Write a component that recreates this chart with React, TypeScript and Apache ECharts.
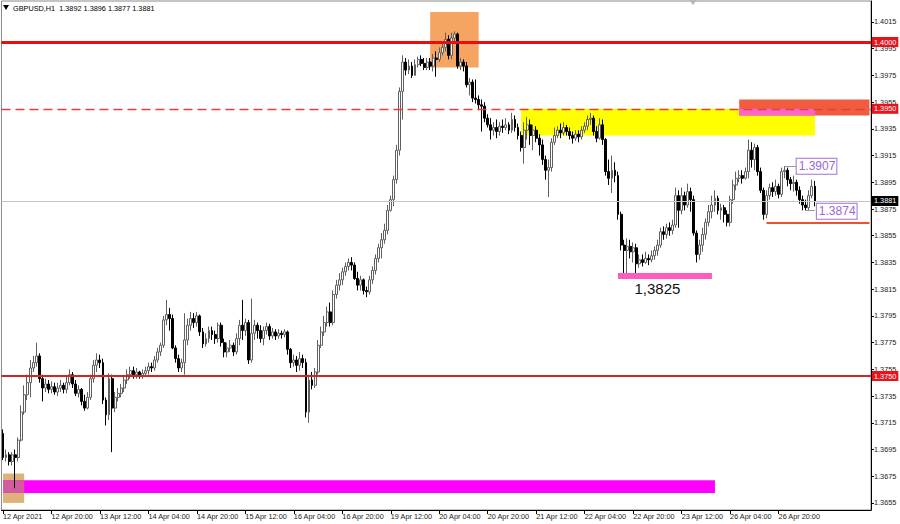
import React, { useEffect, useRef } from 'react';
import * as echarts from 'echarts';

// ---- categories (hourly bars, GBPUSD H1) ----
const tradingDays = ['12 Apr', '13 Apr', '14 Apr', '15 Apr', '16 Apr', '19 Apr', '20 Apr', '21 Apr', '22 Apr', '23 Apr', '26 Apr', '27 Apr', '28 Apr'];
const firstHour = 4;
const slotCount = 287;
const categories: string[] = [];
for (const d of tradingDays) {
  for (let h = 0; h < 24; h++) {
    if (d === tradingDays[0] && h < firstHour) continue;
    if (categories.length < slotCount) categories.push(`${d} ${String(h).padStart(2, '0')}:00`);
  }
}

const xTickLabels = ['12 Apr 04:00', '12 Apr 20:00', '13 Apr 12:00', '14 Apr 04:00', '14 Apr 20:00', '15 Apr 12:00', '16 Apr 04:00', '16 Apr 20:00', '19 Apr 12:00', '20 Apr 04:00', '20 Apr 20:00', '21 Apr 12:00', '22 Apr 04:00', '22 Apr 20:00', '23 Apr 12:00', '26 Apr 04:00', '26 Apr 20:00'];
const firstTickText = '12 Apr 2021';
const yTickLabels = [1.3655, 1.3675, 1.3695, 1.3715, 1.3735, 1.3755, 1.3775, 1.3795, 1.3815, 1.3835, 1.3855, 1.3875, 1.3895, 1.3915, 1.3935, 1.3955, 1.3975, 1.3995, 1.4015];

// ---- candles: [open, close, low, high] ----
const candles: number[][] = [
  [1.3707, 1.3689, 1.3687, 1.3710], [1.3689, 1.3691, 1.3686, 1.3695], [1.3691, 1.3686, 1.3683, 1.3693], [1.3686, 1.3691, 1.3683, 1.3693],
  [1.3691, 1.3689, 1.3666, 1.3695], [1.3689, 1.3702, 1.3686, 1.3704], [1.3702, 1.3723, 1.3701, 1.3728], [1.3723, 1.3736, 1.3721, 1.3743],
  [1.3736, 1.3745, 1.3732, 1.3751], [1.3745, 1.3756, 1.3734, 1.3762], [1.3756, 1.3760, 1.3753, 1.3765], [1.3760, 1.3765, 1.3757, 1.3775],
  [1.3765, 1.3748, 1.3745, 1.3767], [1.3748, 1.3741, 1.3731, 1.3751], [1.3741, 1.3744, 1.3738, 1.3748], [1.3744, 1.3740, 1.3737, 1.3747],
  [1.3740, 1.3742, 1.3737, 1.3746], [1.3742, 1.3738, 1.3736, 1.3745], [1.3738, 1.3741, 1.3735, 1.3745], [1.3741, 1.3743, 1.3738, 1.3747],
  [1.3743, 1.3740, 1.3737, 1.3745], [1.3740, 1.3745, 1.3737, 1.3750], [1.3745, 1.3751, 1.3743, 1.3755], [1.3751, 1.3744, 1.3741, 1.3753],
  [1.3744, 1.3737, 1.3735, 1.3747], [1.3737, 1.3740, 1.3734, 1.3743], [1.3740, 1.3731, 1.3728, 1.3741], [1.3731, 1.3726, 1.3724, 1.3736],
  [1.3726, 1.3734, 1.3725, 1.3738], [1.3734, 1.3748, 1.3732, 1.3751], [1.3748, 1.3758, 1.3745, 1.3762], [1.3758, 1.3762, 1.3753, 1.3767],
  [1.3762, 1.3760, 1.3756, 1.3766], [1.3760, 1.3732, 1.3729, 1.3763], [1.3732, 1.3721, 1.3713, 1.3734], [1.3721, 1.3748, 1.3717, 1.3752],
  [1.3748, 1.3726, 1.3693, 1.3751], [1.3726, 1.3734, 1.3723, 1.3738], [1.3734, 1.3737, 1.3731, 1.3741], [1.3737, 1.3741, 1.3734, 1.3744],
  [1.3741, 1.3747, 1.3738, 1.3750], [1.3747, 1.3751, 1.3744, 1.3755], [1.3751, 1.3754, 1.3748, 1.3757], [1.3754, 1.3751, 1.3748, 1.3757],
  [1.3751, 1.3753, 1.3748, 1.3756], [1.3753, 1.3750, 1.3748, 1.3754], [1.3750, 1.3752, 1.3748, 1.3755], [1.3752, 1.3754, 1.3750, 1.3757],
  [1.3754, 1.3757, 1.3751, 1.3760], [1.3757, 1.3756, 1.3753, 1.3760], [1.3756, 1.3762, 1.3754, 1.3765], [1.3762, 1.3768, 1.3760, 1.3771],
  [1.3768, 1.3773, 1.3765, 1.3775], [1.3773, 1.3792, 1.3771, 1.3795], [1.3792, 1.3796, 1.3788, 1.3807], [1.3796, 1.3793, 1.3784, 1.3801],
  [1.3793, 1.3771, 1.3770, 1.3796], [1.3771, 1.3763, 1.3760, 1.3773], [1.3763, 1.3756, 1.3753, 1.3766], [1.3756, 1.3760, 1.3753, 1.3763],
  [1.3760, 1.3777, 1.3751, 1.3797], [1.3777, 1.3788, 1.3773, 1.3793], [1.3788, 1.3793, 1.3784, 1.3798], [1.3793, 1.3790, 1.3786, 1.3797],
  [1.3790, 1.3795, 1.3787, 1.3798], [1.3795, 1.3783, 1.3780, 1.3796], [1.3783, 1.3774, 1.3771, 1.3786], [1.3774, 1.3778, 1.3772, 1.3782],
  [1.3778, 1.3784, 1.3775, 1.3787], [1.3784, 1.3781, 1.3777, 1.3787], [1.3781, 1.3778, 1.3774, 1.3784], [1.3778, 1.3788, 1.3775, 1.3790],
  [1.3788, 1.3775, 1.3772, 1.3790], [1.3775, 1.3768, 1.3764, 1.3778], [1.3768, 1.3771, 1.3764, 1.3775], [1.3771, 1.3773, 1.3768, 1.3777],
  [1.3773, 1.3768, 1.3765, 1.3775], [1.3768, 1.3778, 1.3766, 1.3782], [1.3778, 1.3788, 1.3773, 1.3792], [1.3788, 1.3784, 1.3777, 1.3807],
  [1.3784, 1.3790, 1.3780, 1.3793], [1.3790, 1.3762, 1.3759, 1.3792], [1.3762, 1.3782, 1.3760, 1.3808], [1.3782, 1.3788, 1.3777, 1.3792],
  [1.3788, 1.3784, 1.3778, 1.3790], [1.3784, 1.3778, 1.3775, 1.3788], [1.3778, 1.3784, 1.3773, 1.3787], [1.3784, 1.3787, 1.3781, 1.3790],
  [1.3787, 1.3780, 1.3777, 1.3789], [1.3780, 1.3783, 1.3778, 1.3786], [1.3783, 1.3780, 1.3777, 1.3785], [1.3780, 1.3782, 1.3778, 1.3785],
  [1.3782, 1.3781, 1.3778, 1.3784], [1.3781, 1.3783, 1.3779, 1.3785], [1.3783, 1.3770, 1.3766, 1.3784], [1.3770, 1.3760, 1.3756, 1.3771],
  [1.3760, 1.3762, 1.3757, 1.3766], [1.3762, 1.3758, 1.3753, 1.3765], [1.3758, 1.3763, 1.3754, 1.3768], [1.3763, 1.3760, 1.3756, 1.3766],
  [1.3760, 1.3723, 1.3719, 1.3763], [1.3723, 1.3747, 1.3715, 1.3751], [1.3747, 1.3743, 1.3740, 1.3753], [1.3743, 1.3753, 1.3741, 1.3756],
  [1.3753, 1.3773, 1.3751, 1.3777], [1.3773, 1.3783, 1.3771, 1.3787], [1.3783, 1.3790, 1.3780, 1.3795], [1.3790, 1.3798, 1.3787, 1.3802],
  [1.3798, 1.3790, 1.3787, 1.3805], [1.3790, 1.3811, 1.3788, 1.3814], [1.3811, 1.3818, 1.3808, 1.3822], [1.3818, 1.3822, 1.3814, 1.3827],
  [1.3822, 1.3828, 1.3818, 1.3831], [1.3828, 1.3832, 1.3825, 1.3835], [1.3832, 1.3835, 1.3829, 1.3838], [1.3835, 1.3833, 1.3829, 1.3839],
  [1.3833, 1.3823, 1.3822, 1.3835], [1.3823, 1.3818, 1.3814, 1.3828], [1.3818, 1.3822, 1.3814, 1.3825], [1.3822, 1.3814, 1.3811, 1.3823],
  [1.3814, 1.3813, 1.3809, 1.3817], [1.3813, 1.3822, 1.3811, 1.3825], [1.3822, 1.3829, 1.3819, 1.3832], [1.3829, 1.3838, 1.3826, 1.3841],
  [1.3838, 1.3846, 1.3835, 1.3849], [1.3846, 1.3852, 1.3838, 1.3857], [1.3852, 1.3859, 1.3849, 1.3864], [1.3859, 1.3874, 1.3856, 1.3878],
  [1.3874, 1.3882, 1.3873, 1.3885], [1.3882, 1.3897, 1.3877, 1.3900], [1.3897, 1.3919, 1.3894, 1.3923], [1.3919, 1.3963, 1.3915, 1.3966],
  [1.3963, 1.3985, 1.3942, 1.3990], [1.3985, 1.3979, 1.3975, 1.3988], [1.3979, 1.3982, 1.3976, 1.3987], [1.3982, 1.3975, 1.3973, 1.3985],
  [1.3975, 1.3983, 1.3975, 1.3987], [1.3983, 1.3987, 1.3981, 1.3989], [1.3987, 1.3984, 1.3982, 1.3990], [1.3984, 1.3981, 1.3979, 1.3988],
  [1.3981, 1.3985, 1.3979, 1.3988], [1.3985, 1.3982, 1.3979, 1.3988], [1.3982, 1.3988, 1.3978, 1.3991], [1.3988, 1.3987, 1.3974, 1.3993],
  [1.3987, 1.3992, 1.3985, 1.3996], [1.3992, 1.3996, 1.3990, 1.4000], [1.3996, 1.4002, 1.3993, 1.4007], [1.4002, 1.3990, 1.3987, 1.4005],
  [1.3990, 1.4003, 1.3987, 1.4007], [1.4003, 1.4006, 1.4000, 1.4008], [1.4006, 1.3982, 1.3980, 1.4007], [1.3982, 1.3985, 1.3979, 1.3988],
  [1.3985, 1.3982, 1.3978, 1.3987], [1.3982, 1.3968, 1.3966, 1.3985], [1.3968, 1.3970, 1.3960, 1.3973], [1.3970, 1.3958, 1.3955, 1.3972],
  [1.3958, 1.3957, 1.3954, 1.3972], [1.3957, 1.3953, 1.3949, 1.3960], [1.3953, 1.3952, 1.3933, 1.3957], [1.3952, 1.3943, 1.3940, 1.3955],
  [1.3943, 1.3938, 1.3936, 1.3946], [1.3938, 1.3934, 1.3927, 1.3943], [1.3934, 1.3936, 1.3930, 1.3940], [1.3936, 1.3933, 1.3928, 1.3942],
  [1.3933, 1.3937, 1.3930, 1.3940], [1.3937, 1.3936, 1.3932, 1.3942], [1.3936, 1.3938, 1.3934, 1.3943], [1.3938, 1.3934, 1.3931, 1.3940],
  [1.3934, 1.3942, 1.3932, 1.3947], [1.3942, 1.3936, 1.3933, 1.3945], [1.3936, 1.3930, 1.3927, 1.3939], [1.3930, 1.3921, 1.3918, 1.3933],
  [1.3921, 1.3934, 1.3909, 1.3940], [1.3934, 1.3938, 1.3927, 1.3944], [1.3938, 1.3930, 1.3923, 1.3942], [1.3930, 1.3934, 1.3919, 1.3938],
  [1.3934, 1.3928, 1.3925, 1.3937], [1.3928, 1.3923, 1.3915, 1.3931], [1.3923, 1.3912, 1.3908, 1.3927], [1.3912, 1.3904, 1.3897, 1.3915],
  [1.3904, 1.3906, 1.3884, 1.3912], [1.3906, 1.3925, 1.3903, 1.3928], [1.3925, 1.3930, 1.3923, 1.3936], [1.3930, 1.3934, 1.3928, 1.3937],
  [1.3934, 1.3932, 1.3928, 1.3939], [1.3932, 1.3936, 1.3930, 1.3940], [1.3936, 1.3933, 1.3930, 1.3938], [1.3933, 1.3930, 1.3927, 1.3936],
  [1.3930, 1.3928, 1.3924, 1.3933], [1.3928, 1.3931, 1.3926, 1.3934], [1.3931, 1.3929, 1.3925, 1.3934], [1.3929, 1.3934, 1.3927, 1.3937],
  [1.3934, 1.3937, 1.3932, 1.3940], [1.3937, 1.3942, 1.3934, 1.3945], [1.3942, 1.3943, 1.3938, 1.3947], [1.3943, 1.3933, 1.3930, 1.3945],
  [1.3933, 1.3928, 1.3925, 1.3937], [1.3928, 1.3938, 1.3927, 1.3943], [1.3938, 1.3927, 1.3923, 1.3942], [1.3927, 1.3903, 1.3900, 1.3928],
  [1.3903, 1.3898, 1.3893, 1.3912], [1.3898, 1.3904, 1.3887, 1.3915], [1.3904, 1.3900, 1.3895, 1.3910], [1.3900, 1.3871, 1.3867, 1.3903],
  [1.3871, 1.3848, 1.3844, 1.3873], [1.3848, 1.3844, 1.3827, 1.3852], [1.3844, 1.3847, 1.3827, 1.3853], [1.3847, 1.3843, 1.3838, 1.3852],
  [1.3843, 1.3846, 1.3835, 1.3850], [1.3846, 1.3834, 1.3825, 1.3849], [1.3834, 1.3837, 1.3831, 1.3841], [1.3837, 1.3835, 1.3832, 1.3841],
  [1.3835, 1.3838, 1.3834, 1.3843], [1.3838, 1.3837, 1.3833, 1.3841], [1.3837, 1.3840, 1.3835, 1.3844], [1.3840, 1.3844, 1.3837, 1.3847],
  [1.3844, 1.3848, 1.3840, 1.3852], [1.3848, 1.3858, 1.3846, 1.3861], [1.3858, 1.3856, 1.3852, 1.3862], [1.3856, 1.3861, 1.3853, 1.3864],
  [1.3861, 1.3859, 1.3855, 1.3865], [1.3859, 1.3863, 1.3856, 1.3867], [1.3863, 1.3885, 1.3861, 1.3891], [1.3885, 1.3874, 1.3861, 1.3889],
  [1.3874, 1.3885, 1.3871, 1.3891], [1.3885, 1.3878, 1.3874, 1.3888], [1.3878, 1.3888, 1.3876, 1.3894], [1.3888, 1.3882, 1.3873, 1.3891],
  [1.3882, 1.3857, 1.3855, 1.3885], [1.3857, 1.3841, 1.3835, 1.3859], [1.3841, 1.3848, 1.3837, 1.3852], [1.3848, 1.3856, 1.3843, 1.3861],
  [1.3856, 1.3865, 1.3852, 1.3868], [1.3865, 1.3873, 1.3862, 1.3878], [1.3873, 1.3878, 1.3868, 1.3885], [1.3878, 1.3883, 1.3873, 1.3889],
  [1.3883, 1.3874, 1.3871, 1.3885], [1.3874, 1.3876, 1.3867, 1.3879], [1.3876, 1.3871, 1.3865, 1.3878], [1.3871, 1.3865, 1.3862, 1.3874],
  [1.3865, 1.3882, 1.3862, 1.3885], [1.3882, 1.3893, 1.3879, 1.3897], [1.3893, 1.3898, 1.3889, 1.3903], [1.3898, 1.3900, 1.3895, 1.3904],
  [1.3900, 1.3898, 1.3894, 1.3904], [1.3898, 1.3903, 1.3897, 1.3906], [1.3903, 1.3919, 1.3898, 1.3927], [1.3919, 1.3912, 1.3906, 1.3925],
  [1.3912, 1.3921, 1.3904, 1.3924], [1.3921, 1.3903, 1.3900, 1.3923], [1.3903, 1.3889, 1.3887, 1.3906], [1.3889, 1.3871, 1.3867, 1.3891],
  [1.3871, 1.3885, 1.3868, 1.3889], [1.3885, 1.3891, 1.3882, 1.3894], [1.3891, 1.3888, 1.3884, 1.3895], [1.3888, 1.3892, 1.3885, 1.3897],
  [1.3892, 1.3886, 1.3883, 1.3894], [1.3886, 1.3903, 1.3884, 1.3906], [1.3903, 1.3904, 1.3898, 1.3907], [1.3904, 1.3897, 1.3892, 1.3906],
  [1.3897, 1.3894, 1.3889, 1.3899], [1.3894, 1.3895, 1.3888, 1.3900], [1.3895, 1.3889, 1.3885, 1.3897], [1.3889, 1.3882, 1.3879, 1.3892],
  [1.3882, 1.3878, 1.3874, 1.3885], [1.3878, 1.3876, 1.3874, 1.3882], [1.3876, 1.3885, 1.3874, 1.3889], [1.3885, 1.3892, 1.3883, 1.3897],
  [1.3892, 1.3881, 1.3877, 1.3896],
];

const titleText = 'GBPUSD,H1  1.3892 1.3896 1.3877 1.3881';

// ---- key levels and zones ----
const levelMajor = 1.4;
const levelDashed = 1.395;
const levelLower = 1.375;
const lastPrice = 1.3881;
// [fromCategory, toCategory, topPrice, bottomPrice]
const zoneTan: [string, string, number, number] = ['12 Apr 04:00', '12 Apr 11:00', 1.3677, 1.3655];
const zoneMagenta: [string, string, number, number] = ['12 Apr 04:00', '23 Apr 23:00', 1.3672, 1.36625];
const zoneTanOverlap: [string, string, number, number] = ['12 Apr 04:00', '12 Apr 11:00', 1.3672, 1.36625];
const zoneOrange: [string, string, number, number] = ['20 Apr 01:00', '20 Apr 17:00', 1.40225, 1.3981];
const zoneYellow: [string, string, number, number] = ['21 Apr 07:00', '27 Apr 08:00', 1.395, 1.393];
const zoneRed: [string, string, number, number] = ['26 Apr 07:00', '28 Apr 02:00', 1.3957, 1.3945];
const zoneOverlapPink: [string, string, number, number] = ['26 Apr 07:00', '27 Apr 08:00', 1.395, 1.3945];
// segments [fromCategory, toCategory, price]
const lowLine: [string, string, number] = ['22 Apr 15:00', '23 Apr 22:00', 1.3825];
const supportLine: [string, string, number] = ['26 Apr 16:00', '28 Apr 02:00', 1.3865];
// price labels [category, price, text]
const highLabel: [string, number, string] = ['26 Apr 22:00', 1.3907, '1.3907'];
const lowLabel: [string, number, string] = ['27 Apr 05:00', 1.3874, '1.3874'];
const lowText: [string, number, string] = ['23 Apr 04:00', 1.3825, '1,3825'];

const FONT = "'Liberation Sans', Arial, sans-serif";

export default function App() {
  const ref = useRef<HTMLDivElement>(null);
  useEffect(() => {
    document.body.style.margin = '0';
    if (!ref.current) return;
    const chart = echarts.init(ref.current, undefined, { renderer: 'svg' });

    const area = (z: [string, string, number, number], color: string) => [
      { xAxis: z[0], yAxis: z[2], itemStyle: { color, opacity: 1 } },
      { xAxis: z[1], yAxis: z[3] },
    ];
    const axisBox = (price: number, bg: string, lineStyle: any) => ({
      yAxis: price,
      lineStyle,
      label: {
        show: true, position: 'end', distance: 1, formatter: price.toFixed(4),
        backgroundColor: bg, color: '#fff', fontSize: 7.3, fontFamily: FONT, padding: [2, 2, 1, 2],
      },
    });
    const tickSet = new Set(xTickLabels);

    const option: any = {
      animation: false,
      backgroundColor: '#ffffff',
      grid: { left: 1, right: 29, top: 1, bottom: 14, show: true, borderColor: '#8a8a8a', borderWidth: 1 },
      xAxis: {
        type: 'category',
        data: categories,
        boundaryGap: true,
        axisLine: { show: true, lineStyle: { color: '#000', width: 1 } },
        axisTick: {
          show: true, alignWithLabel: true, length: 4, lineStyle: { color: '#000' },
          interval: (i: number, v: string) => tickSet.has(v),
        },
        axisLabel: {
          interval: (i: number, v: string) => tickSet.has(v),
          formatter: (v: string) => (v === xTickLabels[0] ? firstTickText : v),
          align: 'left', margin: 3, fontSize: 7.3, color: '#222', fontFamily: FONT,
        },
        splitLine: { show: false },
      },
      yAxis: {
        type: 'value',
        position: 'right',
        min: 1.36497,
        max: 1.40307,
        axisLine: { show: true, lineStyle: { color: '#000', width: 1 } },
        axisTick: { show: true, length: 3, customValues: yTickLabels, lineStyle: { color: '#000' } },
        axisLabel: {
          customValues: yTickLabels, formatter: (v: number) => v.toFixed(4),
          fontSize: 7.3, color: '#222', margin: 3, fontFamily: FONT,
        },
        splitLine: { show: false },
      },
      graphic: [
        { type: 'polygon', shape: { points: [[3, 5], [9, 5], [6, 10]] }, style: { fill: '#000' }, z: 10 },
        { type: 'text', x: 13, y: 8, style: { text: titleText, fontSize: 7.3, fontFamily: FONT, fill: '#000', verticalAlign: 'middle' }, z: 10 },
        { type: 'polygon', shape: { points: [[689, 0], [697, 0], [693, 5]] }, style: { fill: '#b8b8b8' }, z: 10 },
      ],
      series: [
        {
          type: 'scatter',
          data: [],
          z: 0,
          silent: true,
          markArea: {
            silent: true,
            precision: 6,
            data: [
              area(zoneTan, '#DFB27C'),
              area(zoneMagenta, '#FF00FF'),
              area(zoneTanOverlap, '#D25C9E'),
              area(zoneOrange, '#F5A462'),
              area(zoneYellow, '#FFFF00'),
              area(zoneRed, '#F25C3E'),
              area(zoneOverlapPink, '#FF66CC'),
            ],
          },
        },
        {
          type: 'candlestick',
          data: candles,
          z: 2,
          barWidth: 2.4,
          itemStyle: {
            color: '#ffffff', borderColor: '#606060',
            color0: '#000000', borderColor0: '#000000', borderWidth: 1,
          },
          markLine: {
            silent: true,
            precision: 6,
            symbol: ['none', 'none'],
            animation: false,
            data: [
              axisBox(lastPrice, '#000000', { color: '#c4c4c4', width: 1, type: 'solid' }),
              axisBox(levelLower, '#E8141C', { color: '#D42424', width: 2, type: 'solid' }),
              axisBox(levelDashed, '#E8141C', { color: '#E63C3C', width: 1.3, type: [9, 5] }),
              axisBox(levelMajor, '#E8141C', { color: '#E8100F', width: 3, type: 'solid' }),
              [
                { coord: [lowLine[0], lowLine[2]], lineStyle: { color: '#FF5CBF', width: 6, type: 'solid' }, label: { show: false } },
                { coord: [lowLine[1], lowLine[2]] },
              ],
              [
                { coord: [supportLine[0], supportLine[2]], lineStyle: { color: '#F0502E', width: 2, type: 'solid' }, label: { show: false } },
                { coord: [supportLine[1], supportLine[2]] },
              ],
              [
                { coord: [highLabel[0], highLabel[1]], lineStyle: { color: '#9a9a9a', width: 1, type: 'solid' }, label: { show: false } },
                { coord: ['27 Apr 02:00', highLabel[1]] },
              ],
              [
                { coord: [lowLabel[0], lowLabel[1]], lineStyle: { color: '#9a9a9a', width: 1, type: 'solid' }, label: { show: false } },
                { coord: ['27 Apr 08:00', lowLabel[1]] },
              ],
            ],
          },
          markPoint: {
            silent: true,
            precision: 6,
            symbol: 'circle',
            symbolSize: 0,
            animation: false,
            data: [
              {
                coord: [highLabel[0], highLabel[1]],
                label: {
                  show: true, position: 'right', distance: 12, formatter: highLabel[2],
                  color: '#9A66D4', fontSize: 12, fontFamily: FONT, backgroundColor: '#ffffff',
                  borderColor: '#A070D8', borderWidth: 1, padding: [2, 1, 1, 2],
                },
              },
              {
                coord: [lowLabel[0], lowLabel[1]],
                label: {
                  show: true, position: 'right', distance: 11, offset: [0, 1], formatter: lowLabel[2],
                  color: '#9A66D4', fontSize: 12, fontFamily: FONT, backgroundColor: '#ffffff',
                  borderColor: '#A070D8', borderWidth: 1, padding: [2, 1, 1, 2],
                },
              },
              {
                coord: [lowText[0], lowText[1]],
                label: {
                  show: true, position: 'bottom', distance: 5, formatter: lowText[2],
                  color: '#111111', fontSize: 15, fontFamily: FONT,
                },
              },
            ],
          },
        },
      ],
    };
    chart.setOption(option);
    return () => chart.dispose();
  }, []);
  return <div ref={ref} style={{ width: 900, height: 524 }} />;
}
